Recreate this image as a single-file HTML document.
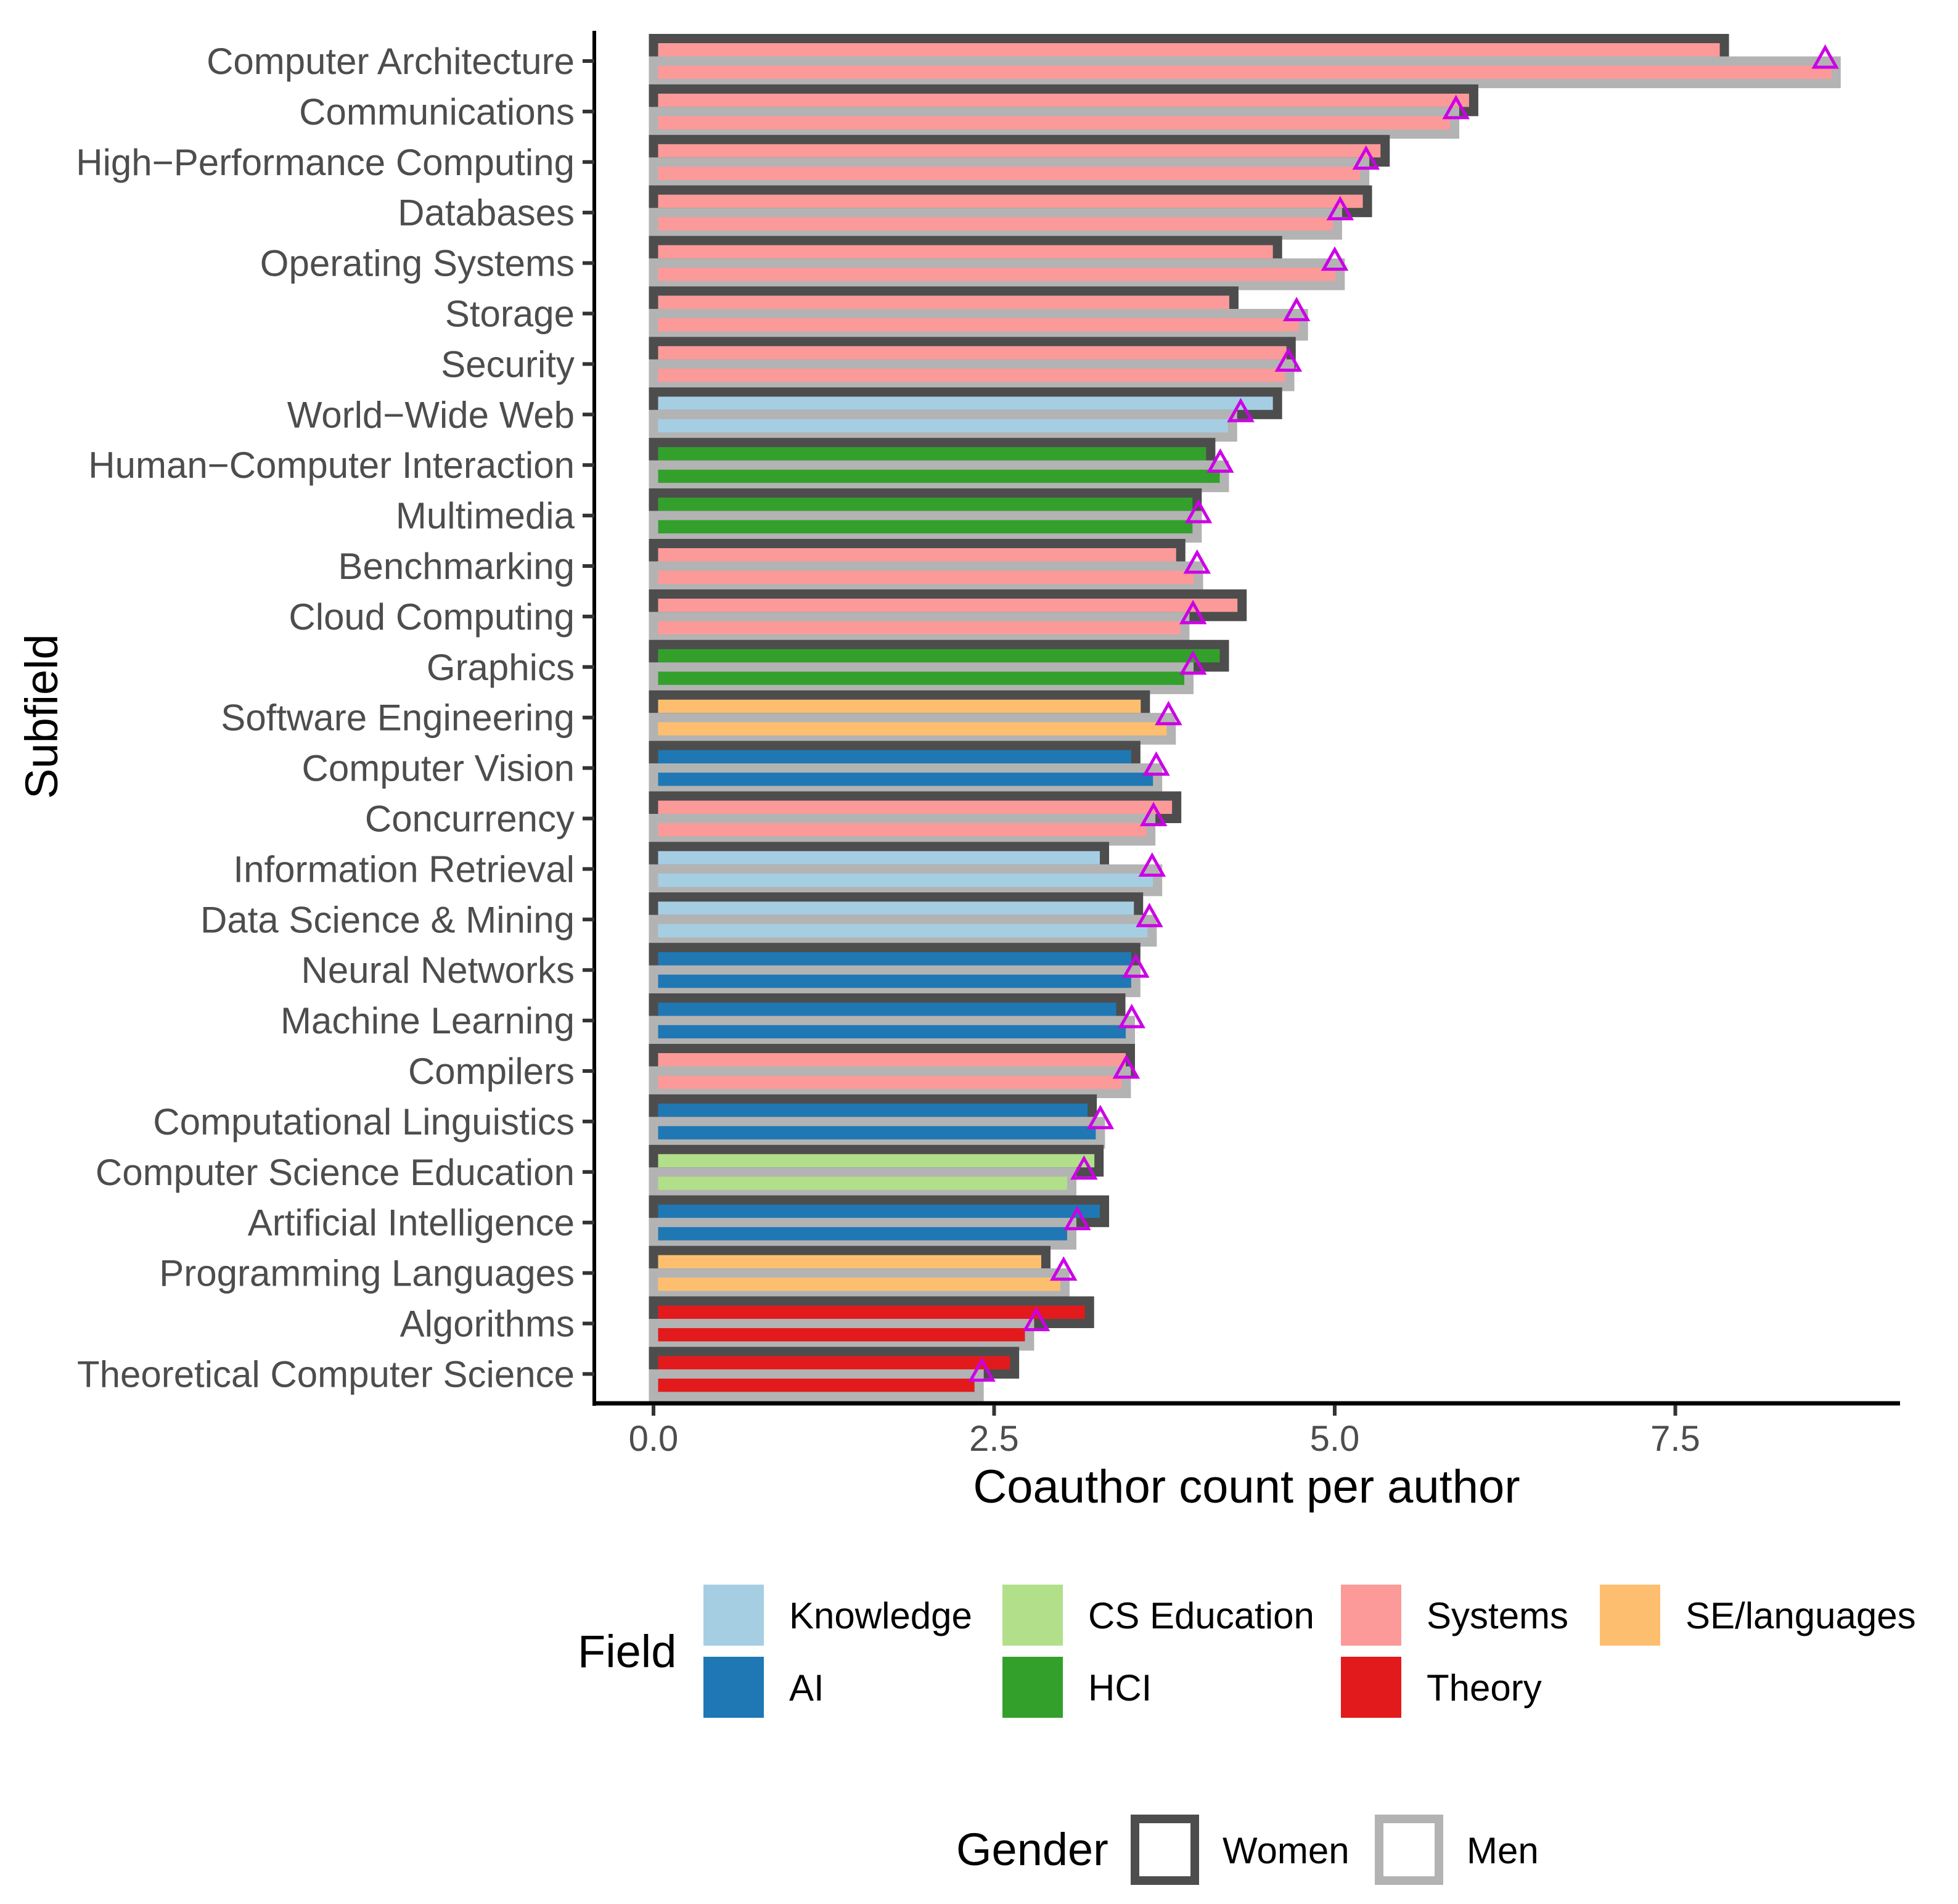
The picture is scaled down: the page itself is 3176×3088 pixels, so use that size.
<!DOCTYPE html>
<html><head><meta charset="utf-8">
<style>
html,body{margin:0;padding:0;background:#fff;}
svg{display:block;font-family:"Liberation Sans",Arial,sans-serif;}
</style></head>
<body>
<svg id="chart" xmlns="http://www.w3.org/2000/svg" width="3176" height="3088" viewBox="0 0 3176 3088">
<rect x="0" y="0" width="3176" height="3088" fill="#fff"/>
<g id="bars"></g>
<g id="tris"></g>
<g id="yaxis"></g>
<g id="xaxis"></g>
<text x="2022" y="2437" font-size="76" text-anchor="middle" fill="#000">Coauthor count per author</text>
<text x="93" y="1162" font-size="74" text-anchor="middle" fill="#000" transform="rotate(-90 93 1162)">Subfield</text>
<g id="legend-field">
<text x="937" y="2704" font-size="74" fill="#000">Field</text>
</g>
<g id="legend-gender">
<text x="1551" y="3025" font-size="74" fill="#000">Gender</text>
<rect x="1841" y="2950" width="97" height="100" fill="#fff" stroke="#4D4D4D" stroke-width="14"/>
<text x="1983" y="3022" font-size="60" fill="#000">Women</text>
<rect x="2237" y="2950" width="97" height="100" fill="#fff" stroke="#B3B3B3" stroke-width="14"/>
<text x="2379" y="3022" font-size="60" fill="#000">Men</text>
</g>
</svg>
<script>
const categories = ["Computer Architecture","Communications","High\u2212Performance Computing","Databases","Operating Systems","Storage","Security","World\u2212Wide Web","Human\u2212Computer Interaction","Multimedia","Benchmarking","Cloud Computing","Graphics","Software Engineering","Computer Vision","Concurrency","Information Retrieval","Data Science & Mining","Neural Networks","Machine Learning","Compilers","Computational Linguistics","Computer Science Education","Artificial Intelligence","Programming Languages","Algorithms","Theoretical Computer Science"];
const fields = ["Systems","Systems","Systems","Systems","Systems","Systems","Systems","Knowledge","HCI","HCI","Systems","Systems","HCI","SE/languages","AI","Systems","Knowledge","Knowledge","AI","AI","Systems","AI","CS Education","AI","SE/languages","Theory","Theory"];
const womenValues = [7.86,6.02,5.37,5.24,4.58,4.26,4.68,4.58,4.09,3.99,3.87,4.32,4.19,3.61,3.54,3.84,3.31,3.56,3.54,3.43,3.50,3.22,3.27,3.31,2.88,3.20,2.65];
const menValues = [8.68,5.88,5.22,5.02,5.04,4.77,4.67,4.25,4.19,3.99,4.00,3.90,3.93,3.80,3.70,3.65,3.70,3.66,3.54,3.50,3.47,3.28,3.07,3.07,3.02,2.76,2.39];
const overallValues = [8.60,5.89,5.23,5.04,5.00,4.72,4.66,4.31,4.16,4.00,3.99,3.96,3.96,3.78,3.69,3.67,3.66,3.64,3.54,3.51,3.47,3.28,3.16,3.11,3.01,2.81,2.41];
const xTicks = [0,2.5,5,7.5];
const xTickLabels = ["0.0","2.5","5.0","7.5"];
const fieldNames = ["Knowledge","CS Education","Systems","SE/languages","AI","HCI","Theory"];
const fieldColors = {"Knowledge":"#A6CEE3","AI":"#1F78B4","CS Education":"#B2DF8A","HCI":"#33A02C","Systems":"#FB9A99","Theory":"#E31A1C","SE/languages":"#FDBF6F"};

const NS="http://www.w3.org/2000/svg";
function mk(tag, parent, attrs){const e=document.createElementNS(NS,tag);for(const k in attrs)e.setAttribute(k,attrs[k]);parent.appendChild(e);return e;}
const X0=1060, KX=221;
function xs(v){return X0+v*KX;}
function yc(i){return 99+i*81.9;}
const BH=36.5;

const bars=document.getElementById('bars');
categories.forEach((c,i)=>{
  const col=fieldColors[fields[i]];
  const w=mk('rect',bars,{x:X0,y:yc(i)-BH,width:xs(womenValues[i])-X0,height:BH,fill:col,stroke:'#4D4D4D','stroke-width':15});
  
  
  const m=mk('rect',bars,{x:X0,y:yc(i),width:xs(menValues[i])-X0,height:BH,fill:col,stroke:'#B3B3B3','stroke-width':15});
  
  
});
const tris=document.getElementById('tris');
overallValues.forEach((v,i)=>{
  const x=xs(v), y=yc(i);
  const t=mk('polygon',tris,{points:(x-18)+','+(y+10)+' '+(x+18)+','+(y+10)+' '+x+','+(y-22),fill:'none',stroke:'#CC00E6','stroke-width':5});
  
  
});
const ya=document.getElementById('yaxis');
const yl=mk('line',ya,{x1:964,y1:50,x2:964,y2:2280,stroke:'#000','stroke-width':6});


categories.forEach((c,i)=>{
  const tk=mk('line',ya,{x1:945,y1:yc(i),x2:964,y2:yc(i),stroke:'#333','stroke-width':6});
  
  
  const t=mk('text',ya,{x:932,y:yc(i)+21,'font-size':60,'text-anchor':'end',fill:'#4D4D4D'});
  t.textContent=c;
  
  
});
const xa=document.getElementById('xaxis');
const xl=mk('line',xa,{x1:961,y1:2276,x2:3082,y2:2276,stroke:'#000','stroke-width':7});


xTicks.forEach((v,i)=>{
  const tk=mk('line',xa,{x1:xs(v),y1:2279,x2:xs(v),y2:2296,stroke:'#333','stroke-width':6});
  
  
  const t=mk('text',xa,{x:xs(v),y:2353,'font-size':58,'text-anchor':'middle',fill:'#4D4D4D'});
  t.textContent=xTickLabels[i];
  
  
});
const lf=document.getElementById('legend-field');
const colX=[1141,1626,2175,2595,1141,1626,2175];
const rowY=[2570,2570,2570,2570,2687,2687,2687];
fieldNames.forEach((f,i)=>{
  const k=mk('rect',lf,{x:colX[i],y:rowY[i],width:98,height:99,fill:fieldColors[f]});
  
  
  const t=mk('text',lf,{x:colX[i]+139,y:rowY[i]+71,'font-size':60,fill:'#000'});
  t.textContent=f;
  
  
});
</script>
</body></html>
